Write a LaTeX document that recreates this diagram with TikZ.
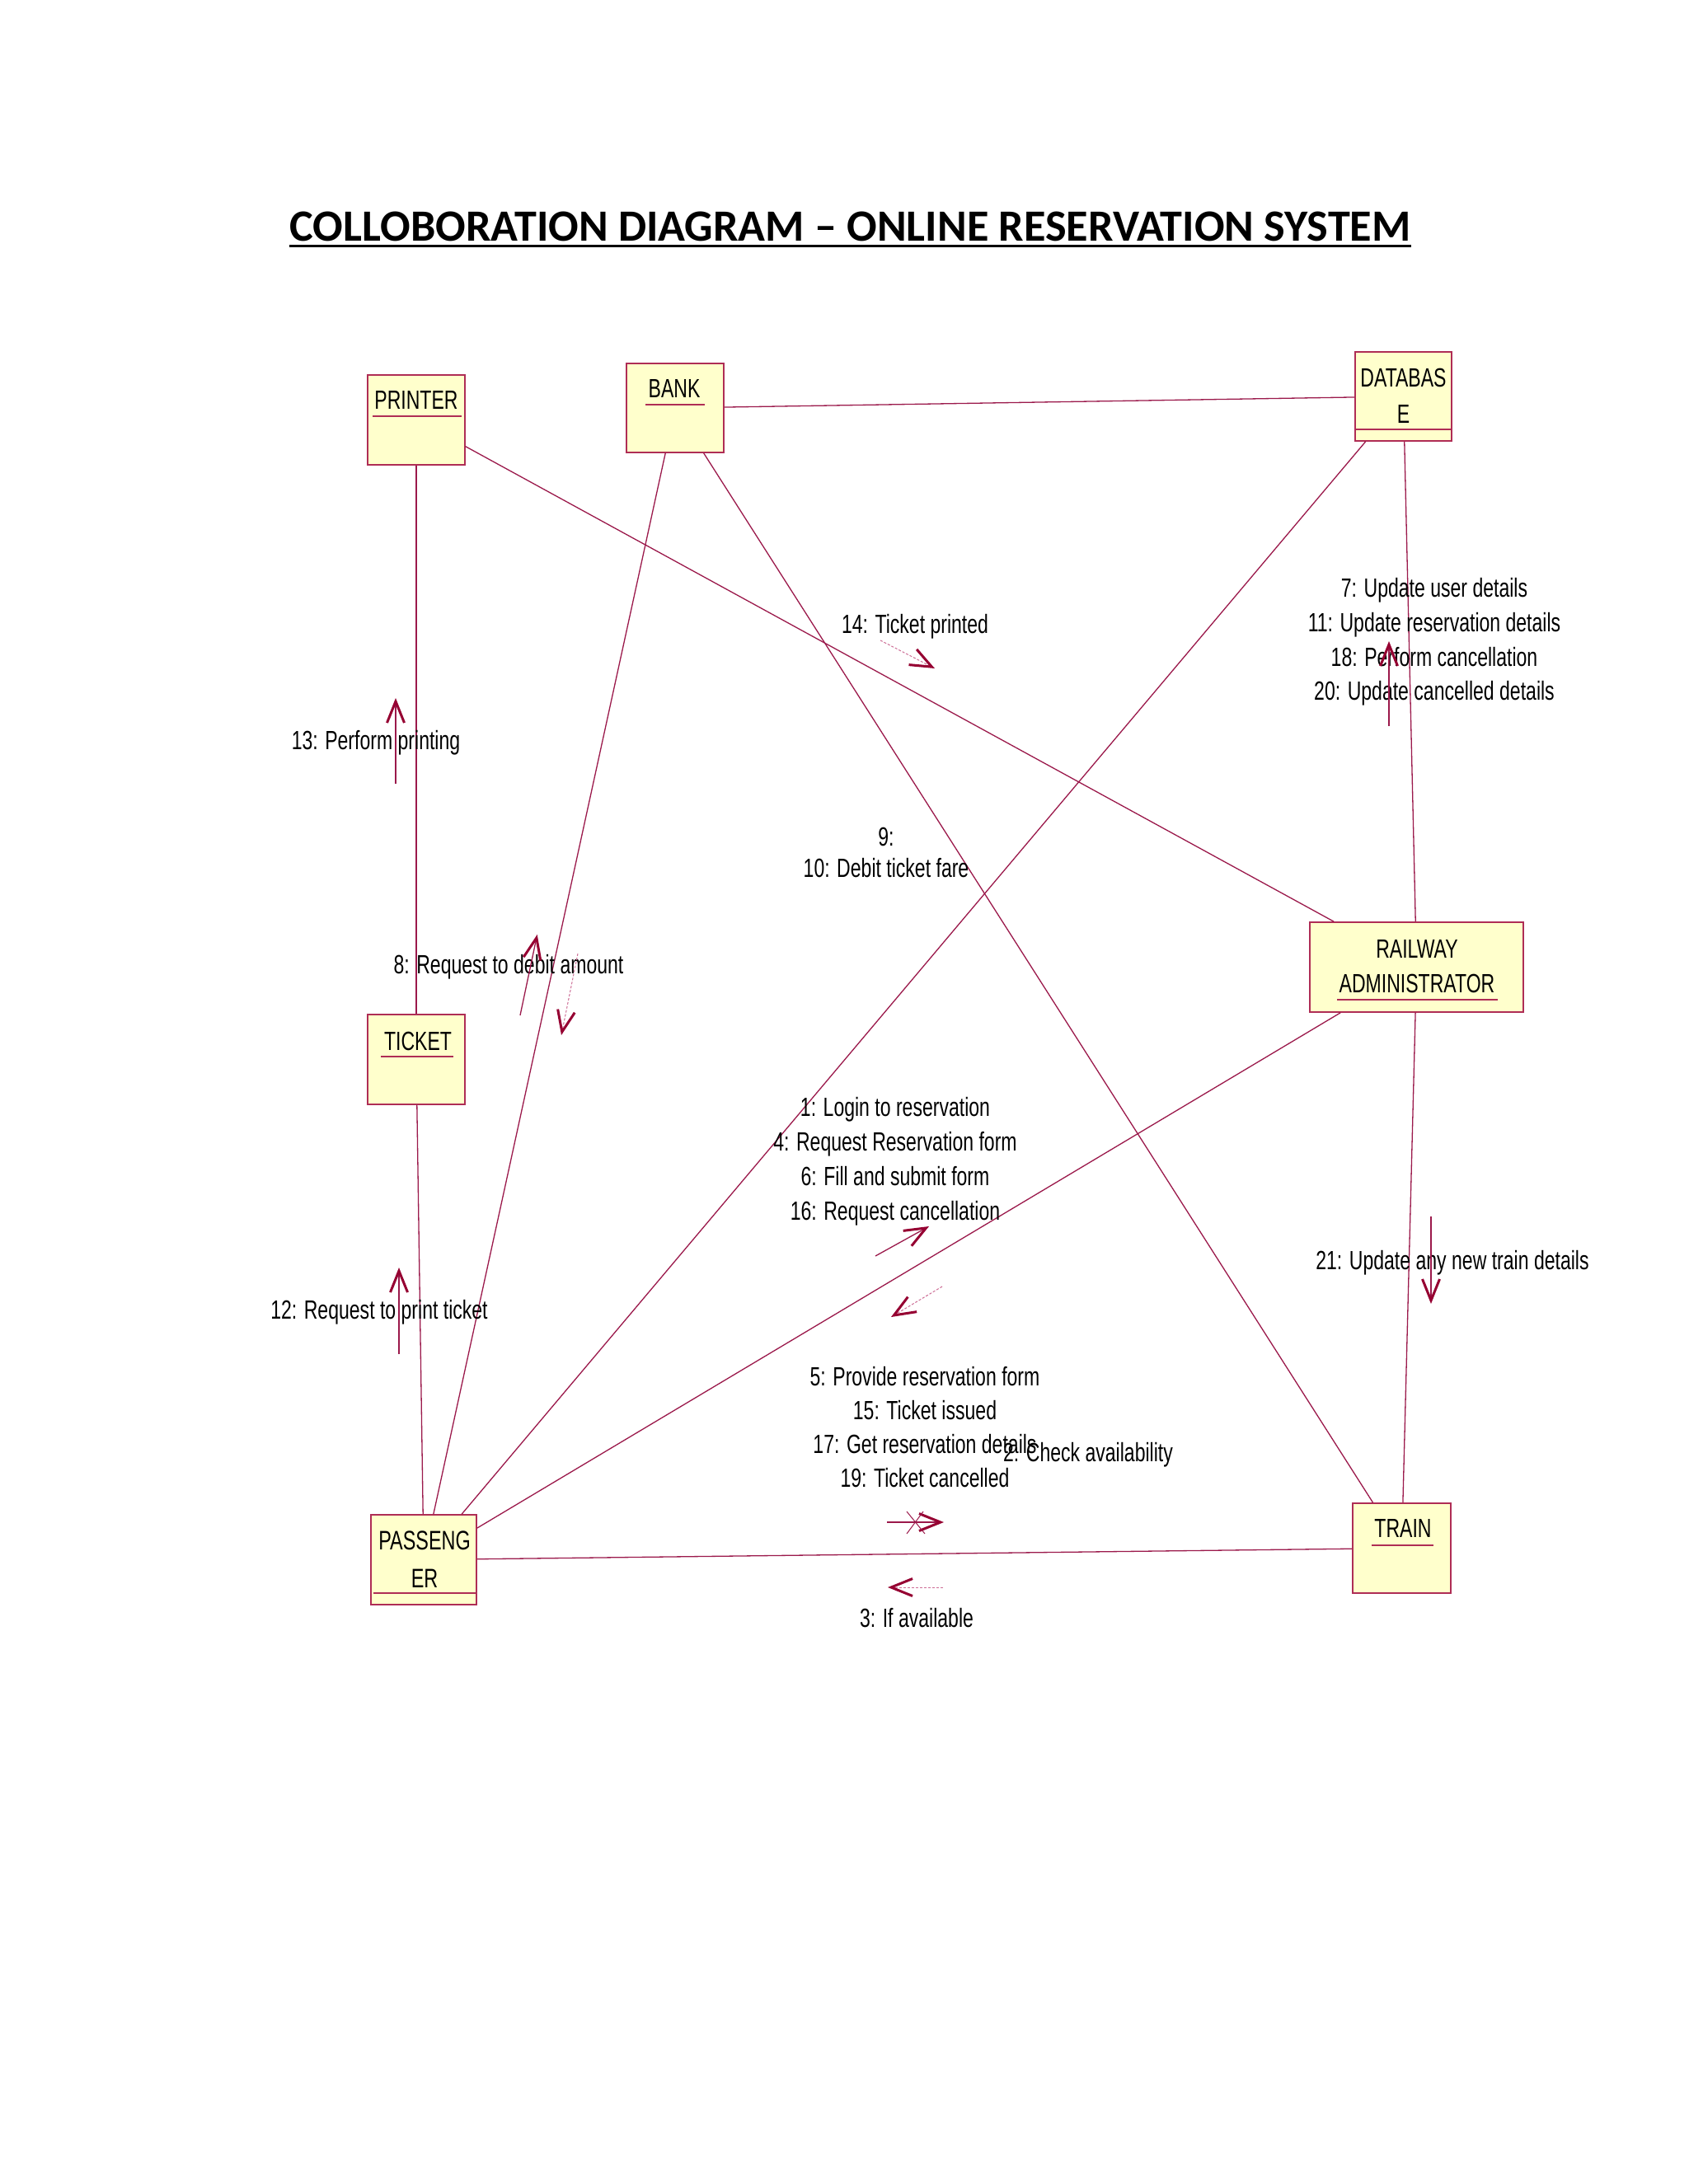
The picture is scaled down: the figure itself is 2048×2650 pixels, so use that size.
\documentclass[tikz,border=0pt]{standalone}
\usepackage{fontspec}
\setmainfont{Liberation Sans}[FakeStretch=0.72]
\newfontfamily\titlefont{Carlito}
\usetikzlibrary{arrows.meta,calc}
\definecolor{lc}{RGB}{155,25,75}
\definecolor{hc}{RGB}{150,0,50}
\definecolor{bc}{RGB}{175,45,85}
\definecolor{fillc}{RGB}{255,255,204}
\definecolor{dc}{RGB}{205,110,150}
\begin{document}
\begin{tikzpicture}[x=1pt,y=-1pt,
  obj/.style={draw=bc, line width=1.6pt, fill=fillc, rectangle, inner sep=0pt},
  oname/.style={inner sep=0pt, anchor=north, align=center, font=\fontsize{32}{44}\selectfont},
  link/.style={draw=lc, line width=1.3pt},
  ul/.style={draw=bc, line width=1.6pt},
  lbl/.style={inner sep=0pt, anchor=north, align=center, font=\fontsize{32}{41}\selectfont},
  tipa/.tip={Straight Barb[length=26pt,width=21pt,line width=3pt,color=hc]},
  msg/.style={draw=lc, line width=1.3pt, -tipa},
  rmsg/.style={draw=dc, line width=1pt, dash pattern=on 3pt off 2pt, -tipa},
]
\fill[white] (0,0) rectangle (2048,2650);
\useasboundingbox (0,0) rectangle (2048,2650);

% title
\node[inner sep=0pt, anchor=base, font=\titlefont\bfseries\fontsize{54.2}{60}\selectfont] (title) at (1031.5,292) {COLLOBORATION DIAGRAM – ONLINE RESERVATION SYSTEM};
\draw[line width=3pt] ($(title.base west)+(0,6)$) -- ($(title.base east)+(0,6)$);

% objects
\node[obj, minimum width=118pt, minimum height=109pt] (printer) at (505,509.5) {};
\node[obj, minimum width=118pt, minimum height=108pt] (bank) at (819,495) {};
\node[obj, minimum width=117pt, minimum height=108pt] (db) at (1702.5,481) {};
\node[obj, minimum width=259pt, minimum height=109pt] (ra) at (1718.5,1173.5) {};
\node[obj, minimum width=118pt, minimum height=109pt] (ticket) at (505,1285.5) {};
\node[obj, minimum width=128pt, minimum height=109pt] (pass) at (514,1892.5) {};
\node[obj, minimum width=119pt, minimum height=109pt] (train) at (1700.5,1878.5) {};

% object names
\node[oname] (printer-t) at (505,474.5) {PRINTER};
\node[oname] (bank-t) at (818,460.5) {BANK};
\node[oname] (db-t) at (1702.5,446.5) {DATABAS\\E};
\node[oname, font=\fontsize{32}{42}\selectfont] (ra-t) at (1719,1140.5) {RAILWAY\\ADMINISTRATOR};
\node[oname] (ticket-t) at (507,1251.5) {TICKET};
\node[oname, font=\fontsize{32.5}{46}\selectfont] (pass-t) at (515,1857.5) {PASSENG\\ER};
\node[oname] (train-t) at (1702,1843.5) {TRAIN};

% name underlines
\draw[ul] ($(printer.north west)+(7,51)$) -- ($(printer.north east)+(-5,51)$);
\draw[ul] ($(bank.north west)+(24,51)$) -- ($(bank.north east)+(-24,51)$);
\draw[ul] ($(db.north west)+(0,95)$) -- ($(db.north east)+(0,95)$);
\draw[ul] ($(ra.north west)+(34,95)$) -- ($(ra.north east)+(-32,95)$);
\draw[ul] ($(ticket.north west)+(17,52)$) -- ($(ticket.north east)+(-15,52)$);
\draw[ul] ($(pass.north west)+(4,96)$) -- ($(pass.north east)+(-2,96)$);
\draw[ul] ($(train.north west)+(24,52)$) -- ($(train.north east)+(-22,52)$);

% links
\draw[link] (bank) -- (db);
\draw[link] (printer) -- (ticket);
\draw[link] (printer) -- (ra);
\draw[link] (bank) -- (pass);
\draw[link] (bank) -- (train);
\draw[link] (db) -- (pass);
\draw[link] (db) -- (ra);
\draw[link] (ra) -- (pass);
\draw[link] (ra) -- (train);
\draw[link] (ticket) -- (pass);
\draw[link] (pass) -- (train);

% message labels
\node[lbl, font=\fontsize{32}{41.7}\selectfont] (m7) at (1740,701.5) {7: Update user details\\11: Update reservation details\\18: Perform cancellation\\20: Update cancelled details};
\node[lbl] (m14) at (1110,745.5) {14: Ticket printed};
\node[lbl, font=\fontsize{32}{38}\selectfont] (m9) at (1075,1003.5) {9:\\10: Debit ticket fare};
\node[lbl] (m13) at (456,886.5) {13: Perform printing};
\node[lbl] (m8) at (617,1158.5) {8: Request to debit amount};
\node[lbl, font=\fontsize{32}{41.7}\selectfont] (m1) at (1086,1331.5) {1: Login to reservation\\4: Request Reservation form\\6: Fill and submit form\\16: Request cancellation};
\node[lbl] (m21) at (1762,1517.5) {21: Update any new train details};
\node[lbl] (m12) at (460,1577.5) {12: Request to print ticket};
\node[lbl] (m5) at (1122,1658.5) {5: Provide reservation form\\15: Ticket issued\\17: Get reservation details\\19: Ticket cancelled};
\node[lbl] (m2) at (1320,1750.5) {2: Check availability};
\node[lbl] (m3) at (1112,1951.5) {3: If available};

% message arrows
\draw[msg] (480,951) -- (480,847);
\draw[msg] (631,1232) -- (651.7,1134);
\draw[rmsg] (701,1157) -- (681,1256);
\draw[rmsg] (1068,777) -- (1134,811);
\draw[msg] (1685,881) -- (1685,778);
\draw[msg] (484,1643) -- (484,1538);
\draw[msg] (1736,1476) -- (1736,1582);
\draw[msg] (1062,1524) -- (1127,1488);
\draw[rmsg] (1143,1561) -- (1081,1598);
\draw[msg] (1076,1847) -- (1145,1847);
\draw[draw=lc, line width=1pt] (1100,1834) -- (1122,1861) (1100,1861) -- (1120,1834);
\draw[rmsg] (1144,1926) -- (1077,1926);
\end{tikzpicture}
\end{document}
